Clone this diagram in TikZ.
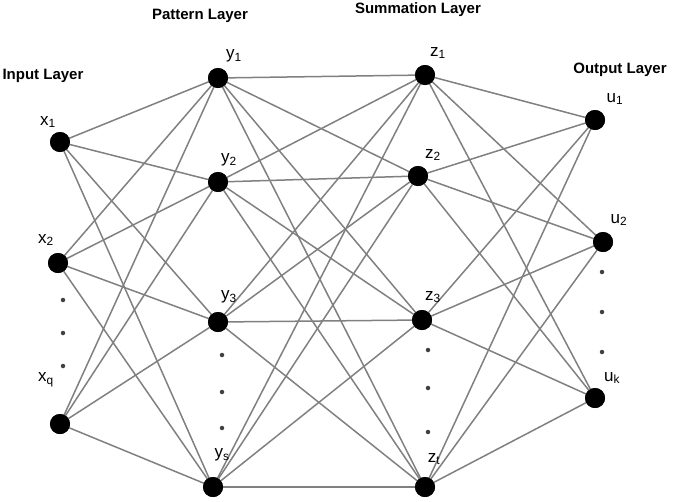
\documentclass[tikz,border=0pt]{standalone}
\usepackage{fontspec}
\setmainfont{Liberation Sans}
\begin{document}
\begin{tikzpicture}[x=1pt,y=-1pt,
  neuron/.style={circle,fill=black,minimum size=20pt,inner sep=0pt},
  edge/.style={draw=black!50,line width=1.5pt},
  title/.style={font=\bfseries\fontsize{15}{17}\selectfont},
  lab/.style={font=\fontsize{17}{19}\selectfont},
  dot/.style={circle,fill=black!75,minimum size=4.5pt,inner sep=0pt}]
\useasboundingbox (0,0) rectangle (685,501);
\node[neuron] (x1) at (60,142) {};
\node[neuron] (x2) at (58,263) {};
\node[neuron] (xq) at (60,424) {};
\node[neuron] (y1) at (218,78) {};
\node[neuron] (y2) at (218,182) {};
\node[neuron] (y3) at (218,322) {};
\node[neuron] (ys) at (213,487) {};
\node[neuron] (z1) at (425,75) {};
\node[neuron] (z2) at (418,176) {};
\node[neuron] (z3) at (422,320) {};
\node[neuron] (zt) at (425,487) {};
\node[neuron] (u1) at (595,120) {};
\node[neuron] (u2) at (603,242) {};
\node[neuron] (uk) at (595,398) {};
\foreach \a in {x1,x2,xq}\foreach \b in {y1,y2,y3,ys}\draw[edge] (\a.center)--(\b.center);
\foreach \a in {y1,y2,y3,ys}\foreach \b in {z1,z2,z3,zt}\draw[edge] (\a.center)--(\b.center);
\foreach \a in {z1,z2,z3,zt}\foreach \b in {u1,u2,uk}\draw[edge] (\a.center)--(\b.center);
\foreach \n in {x1,x2,xq,y1,y2,y3,ys,z1,z2,z3,zt,u1,u2,uk}\node[neuron] at (\n) {};
\foreach \y [count=\i] in {300,333,366}\node[dot] (dx\i) at (63,\y) {};
\foreach \y [count=\i] in {355,392,428}\node[dot] (dy\i) at (222,\y) {};
\foreach \y [count=\i] in {350,388,432}\node[dot] (dz\i) at (428,\y) {};
\foreach \y [count=\i] in {272,312,352}\node[dot] (du\i) at (602,\y) {};
\node[title] (t1) at (43,76) {Input Layer};
\node[title] (t2) at (200,16) {Pattern Layer};
\node[title] (t3) at (418,10) {Summation Layer};
\node[title] (t4) at (620,70) {Output Layer};
\node[lab] (lx1) at (48,122) {x\textsubscript{1}};
\node[lab] (lx2) at (46,240) {x\textsubscript{2}};
\node[lab] (lxq) at (46,380) {x\textsubscript{q}};
\node[lab] (ly1) at (234,56) {y\textsubscript{1}};
\node[lab] (ly2) at (229,160) {y\textsubscript{2}};
\node[lab] (ly3) at (229,297) {y\textsubscript{3}};
\node[lab] (lys) at (222,455) {y\textsubscript{s}};
\node[lab] (lz1) at (438,53) {z\textsubscript{1}};
\node[lab] (lz2) at (433,155) {z\textsubscript{2}};
\node[lab] (lz3) at (433,297) {z\textsubscript{3}};
\node[lab] (lzt) at (434,459) {z\textsubscript{t}};
\node[lab] (lu1) at (615,99) {u\textsubscript{1}};
\node[lab] (lu2) at (619,220) {u\textsubscript{2}};
\node[lab] (luk) at (612,378) {u\textsubscript{k}};
\end{tikzpicture}
\end{document}
